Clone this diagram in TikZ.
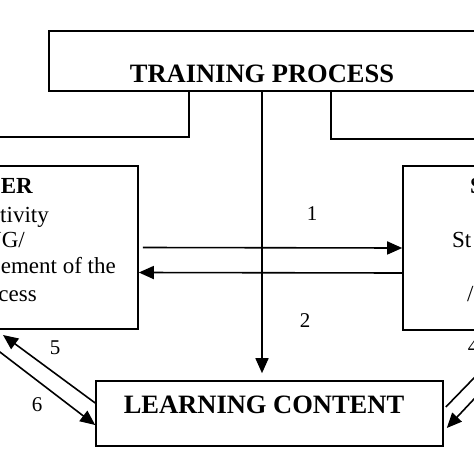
\documentclass[tikz,border=0pt]{standalone}
\usepackage{fontspec}
\setmainfont{Liberation Serif}
\usetikzlibrary{arrows.meta}
\begin{document}
\begin{tikzpicture}[x=1pt,y=-1pt,
  box/.style={draw,line width=1.6pt,rectangle,inner sep=0pt},
  arr/.style={line width=1.6pt,-{Triangle[length=15pt,width=13pt]}},
  ln/.style={line width=1.6pt},
  head/.style={font=\fontsize{26.5}{30}\selectfont\bfseries,inner sep=0pt},
  body/.style={font=\fontsize{23}{27}\selectfont,inner sep=0pt},
  num/.style={font=\fontsize{21}{24}\selectfont,inner sep=0pt}]
\useasboundingbox (0,0) rectangle (474,474);
\fill[white] (0,0) rectangle (474,474);
\clip (0,0) rectangle (474,474);
% boxes
\node[box,minimum width=471pt,minimum height=60pt] (train) at (284.5,61) {};
\node[box,minimum width=198pt,minimum height=163pt] (teach) at (39,247.5) {};
\node[box,minimum width=137pt,minimum height=164pt] (stud) at (471.5,248) {};
\node[box,minimum width=347pt,minimum height=65pt] (lc) at (269.5,413.5) {};
% texts
\node[head,anchor=base] (ttrain) at (262,82) {TRAINING PROCESS};
\node[head,anchor=base] (tlc) at (264,413) {LEARNING CONTENT};
\node[head,anchor=base east,font=\fontsize{23}{27}\selectfont\bfseries] (t1) at (33,193) {ER};
\node[body,anchor=base east] (t2) at (49,222) {tivity};
\node[body,anchor=base east] (t3) at (25,247) {NG/};
\node[body,anchor=base east] (t4) at (116,273) {ement of the};
\node[body,anchor=base east] (t5) at (37,301) {cess};
\node[body,anchor=base west,font=\fontsize{23}{27}\selectfont\bfseries] (s1) at (470,193) {S};
\node[body,anchor=base west] (s2) at (452,247) {St};
\node[body,anchor=base west] (s3) at (467,301) {/};
% number labels
\node[num] (n1) at (312,214) {1};
\node[num] (n2) at (305,321) {2};
\node[num] (n5) at (55,348) {5};
\node[num] (n6) at (37,405) {6};
\node[num] (n4) at (473,347) {4};
% connectors from training process
\coordinate (leftend) at (-10,137);
\coordinate (rightend) at (490,139);
\draw[ln] ([xshift=-95.5pt]train.south) |- (leftend);
\draw[ln] ([xshift=46.5pt]train.south) |- (rightend);
\draw[arr,shorten >=7pt] ([xshift=-22.5pt]train.south) -- ([xshift=-7.5pt]lc.north);
% teacher <-> student
\draw[arr] ([xshift=4pt]teach.east) -- (stud.west);
\draw[arr] ([yshift=-25pt]stud.west) -- ([yshift=-25pt]teach.east);
% left diagonals
\coordinate (tip5) at (3,335);
\coordinate (c6) at (-10,344.4);
\draw[arr] ([yshift=10.5pt]lc.west) -- (tip5);
\draw[arr] (c6) -- ([yshift=-11.5pt]lc.west);
% right diagonals
\coordinate (r1) at (490,361.5);
\coordinate (r2) at (490,382);
\draw[ln] ([xshift=2pt,yshift=6.5pt]lc.east) -- (r1);
\draw[arr] (r2) -- ([xshift=3pt,yshift=-14.5pt]lc.east);
\end{tikzpicture}
\end{document}
